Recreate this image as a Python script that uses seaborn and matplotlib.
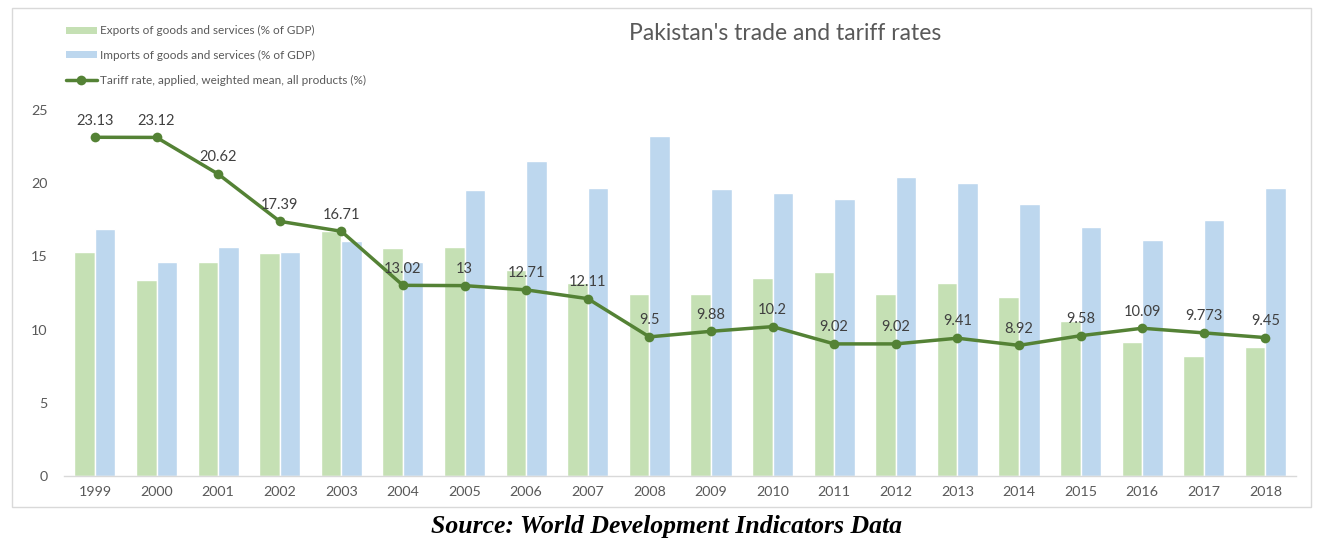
""" Pakistan's trade and tariff rates, 1999-2018 """

import numpy as np
import pandas as pd
import matplotlib.pyplot as plt
import seaborn as sns
from matplotlib.patches import Patch, Rectangle
from matplotlib.lines import Line2D

years = [str(y) for y in range(1999, 2019)]
exports = [15.3, 13.4, 14.6, 15.2, 16.7, 15.6, 15.65, 14.1, 13.2, 12.4,
           12.4, 13.5, 13.95, 12.4, 13.2, 12.2, 10.57, 9.13, 8.2, 8.8]
imports = [16.9, 14.6, 15.66, 15.28, 16.07, 14.6, 19.5, 21.5, 19.7, 23.2,
           19.6, 19.3, 18.9, 20.4, 20.0, 18.6, 17.0, 16.1, 17.5, 19.65]
tariff = [23.13, 23.12, 20.62, 17.39, 16.71, 13.02, 13, 12.71, 12.11, 9.5,
          9.88, 10.2, 9.02, 9.02, 9.41, 8.92, 9.58, 10.09, 9.773, 9.45]
tariff_labels = ["23.13", "23.12", "20.62", "17.39", "16.71", "13.02", "13", "12.71",
                 "12.11", "9.5", "9.88", "10.2", "9.02", "9.02", "9.41", "8.92",
                 "9.58", "10.09", "9.773", "9.45"]

exp_name = "Exports of goods and services (% of GDP)"
imp_name = "Imports of goods and services (% of GDP)"
tar_name = "Tariff rate, applied, weighted mean, all products (%)"

green_bar = "#C5E0B4"
blue_bar = "#BDD7EE"
line_col = "#548235"
text_col = "#595959"

sns.set_theme(style="white")
plt.rcParams['font.family'] = ['Lato', 'DejaVu Sans']

df = pd.DataFrame({
    "year": years * 2,
    "value": exports + imports,
    "series": [exp_name] * len(years) + [imp_name] * len(years),
})

fig = plt.figure(figsize=(13.22, 5.44), dpi=100)
ax = fig.add_axes([0.0485, 0.125, 0.932, 0.673])

sns.barplot(data=df, x="year", y="value", hue="series",
            palette=[green_bar, blue_bar], width=0.667, gap=0,
            saturation=1, legend=False, ax=ax, errorbar=None)

# tariff line on the same categorical positions
xs = np.arange(len(years))
sns.lineplot(x=xs, y=tariff, color=line_col, linewidth=2.5, marker="o",
             markersize=7, markeredgewidth=0, ax=ax)

for x, y, lab in zip(xs, tariff, tariff_labels):
    ax.annotate(lab, (x, y), xytext=(0, 7), textcoords="offset points",
                ha="center", va="bottom", fontsize=10.5, color="#404040")

ax.set_xlim(-0.5, len(years) - 0.5)
ax.set_ylim(0, 25)
ax.set_yticks([0, 5, 10, 15, 20, 25])
ax.set_xlabel("")
ax.set_ylabel("")
ax.tick_params(axis="both", length=0, labelsize=10.3, colors=text_col)
ax.tick_params(axis="y", pad=12)
ax.tick_params(axis="x", pad=7)
for s in ["top", "right", "left"]:
    ax.spines[s].set_visible(False)
ax.spines["bottom"].set_color("#D9D9D9")
ax.spines["bottom"].set_linewidth(1)

fig.text(0.594, 0.938, "Pakistan's trade and tariff rates", ha="center", va="center",
         fontsize=16.5, color=text_col)

handles = [Patch(facecolor=green_bar, edgecolor="none"),
           Patch(facecolor=blue_bar, edgecolor="none"),
           Line2D([0], [0], color=line_col, linewidth=2.5, marker="o",
                  markersize=7, markeredgewidth=0)]
fig.legend(handles, [exp_name, imp_name, tar_name], loc="upper left",
           bbox_to_anchor=(0.042, 0.973), frameon=False, fontsize=8.5,
           labelcolor=text_col, handlelength=2.6, handleheight=0.5,
           handletextpad=0.3, labelspacing=1.15)

# outer chart border
fig.patches.append(Rectangle((0.009, 0.068), 0.983, 0.917, transform=fig.transFigure,
                             fill=False, edgecolor="#D9D9D9", linewidth=1))

fig.text(0.504, 0.033, "Source: World Development Indicators Data", ha="center",
         va="center", fontsize=18.5, fontweight="bold", fontstyle="italic",
         family=["Liberation Serif", "DejaVu Serif"], color="black")

plt.savefig("out.png", dpi=100)
